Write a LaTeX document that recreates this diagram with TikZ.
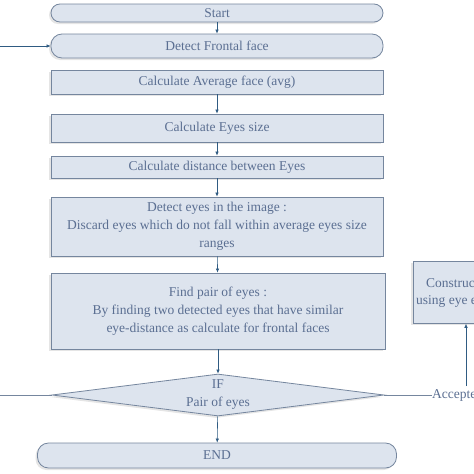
\documentclass[tikz,border=0pt]{standalone}
\usepackage{fontspec}
\setmainfont{Liberation Serif}
\usetikzlibrary{arrows.meta,shapes.geometric,shadows}
\definecolor{boxfill}{HTML}{DDE4EE}
\definecolor{boxline}{HTML}{75869E}
\definecolor{boxtext}{HTML}{5B6F92}
\definecolor{arrowline}{HTML}{2F5B82}
\tikzset{
  txt/.style={text=boxtext, font=\fontsize{13.5}{18}\selectfont, align=center},
  base_box/.style={txt, draw=boxline, fill=boxfill, line width=0.8pt, inner sep=0pt,
    minimum width=332pt, drop shadow={shadow xshift=-2pt, shadow yshift=-2pt, opacity=0.2}},
  proc_box/.style={base_box, rectangle},
  term_box/.style={base_box, rounded corners=9pt},
  if_box/.style={base_box, diamond, aspect=7.9, minimum height=42pt},
  arr/.style={draw=arrowline, line width=0.6pt, -{Latex[length=4pt,width=3.5pt]}},
  plain_line/.style={draw=boxline, line width=0.6pt}
}
\begin{document}
\begin{tikzpicture}
    \clip (0,0) rectangle (474pt,-474pt);
    \fill[white] (0,0) rectangle (474pt,-474pt);
    % main column
    \node[term_box, minimum height=18pt] (start) at (217pt,-13pt) {Start};
    \node[term_box, minimum height=24pt, rounded corners=11pt] (frontal) at (217pt,-46pt) {Detect Frontal face};
    \node[proc_box, minimum height=24pt] (avg) at (217pt,-82pt) {Calculate Average face (avg)};
    \node[proc_box, minimum height=28pt] (size) at (217pt,-128pt) {Calculate Eyes size};
    \node[proc_box, minimum height=22pt] (dist) at (217pt,-167pt) {Calculate distance between Eyes};
    \node[proc_box, minimum height=59pt] (detect) at (217pt,-226.5pt) {Detect eyes in the image :\\Discard eyes which do not fall within average eyes size\\ranges};
    \node[proc_box, minimum height=76pt, minimum width=334pt] (pair) at (218pt,-311pt) {Find pair of eyes :\\By finding two detected eyes that have similar\\eye-distance as calculate for frontal faces};
    \node[if_box] (ifpair) at (218pt,-395pt) {};
    \node[txt] (iftext) at (ifpair) {IF\\Pair of eyes};
    \node[term_box, minimum width=359pt, minimum height=25pt, rounded corners=11pt] (endn) at (217pt,-455.5pt) {END};
    % right branch
    \node[proc_box, minimum width=120pt, minimum height=62pt, anchor=north west] (construct) at (413pt,-261pt) {};
    \node[txt, anchor=west, inner sep=0pt] (constr1) at (426pt,-283pt) {Construc};
    \node[txt, anchor=west, inner sep=0pt] (constr2) at (416pt,-301pt) {using eye e};
    \node[txt, anchor=west, inner sep=0pt] (accept) at (432pt,-395pt) {Accepte};
    \coordinate (up) at (466pt,-386pt);
    % left loop ends
    \coordinate (lin) at (0pt,-46pt);
    \coordinate (lout) at (0pt,-395pt);
    % connectors
    \draw[arr] (start) -- (frontal);
    \draw[arr] (avg) -- (size);
    \draw[arr] (size) -- (dist);
    \draw[arr] (dist) -- (detect);
    \draw[arr] (detect) -- (pair);
    \draw[arr] (pair) -- (ifpair);
    \draw[arr] (ifpair) -- (endn);
    \draw[arr] (lin) -- (frontal.west);
    \draw[plain_line] (ifpair.west) -- (lout);
    \draw[plain_line] (ifpair.east) -- (accept.west);
    \draw[arr] (up) -- (up |- construct.south);
\end{tikzpicture}
\end{document}
